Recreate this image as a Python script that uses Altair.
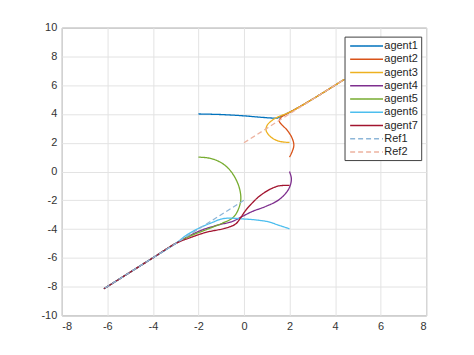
import altair as alt
import pandas as pd

names = ["agent1", "agent2", "agent3", "agent4", "agent5", "agent6", "agent7", "Ref1", "Ref2"]
colors = ["#0072BD", "#D95319", "#EDB120", "#7E2F8E", "#77AC30", "#4DBEEE", "#A2142F", "#8DB6D8", "#EDB3A0"]

up_x = [2.5, 3.0, 3.7, 4.4]
up_y = [4.55, 5.02, 5.7, 6.4]
lo_x = [-3.0, -4.0, -5.0, -6.15]
lo_y = [-5.0, -6.0, -7.0, -8.15]

a1_x = [-2.0, -1.0, 0.0, 0.6, 1.2, 1.45, 1.68, 2.0] + up_x
a1_y = [4.0, 3.96, 3.87, 3.79, 3.72, 3.72, 3.88, 4.12] + up_y
a2_x = [2.0, 2.12, 2.19, 2.12, 1.9, 1.68, 1.55, 1.62, 1.85, 2.1] + up_x
a2_y = [1.0, 1.4, 1.83, 2.3, 2.87, 3.22, 3.5, 3.75, 3.98, 4.2] + up_y
a3_x = [2.0, 1.53, 1.17, 0.97, 1.02, 1.24, 1.53, 1.85, 2.1] + up_x
a3_y = [2.02, 2.11, 2.41, 2.87, 3.22, 3.56, 3.82, 4.02, 4.2] + up_y
a4_x = [2.0, 2.08, 2.04, 1.89, 1.53, 0.95, 0.36, -0.07, -0.51, -1.09, -1.82, -2.4] + lo_x
a4_y = [0.0, -0.47, -0.93, -1.4, -1.97, -2.43, -2.78, -3.12, -3.47, -3.7, -4.05, -4.47] + lo_y
a5_x = [-2.0, -1.6, -1.24, -0.85, -0.51, -0.22, -0.14, -0.29, -0.51, -0.95, -1.67, -2.4] + lo_x
a5_y = [1.0, 0.95, 0.8, 0.45, -0.12, -1.05, -1.97, -2.78, -3.24, -3.59, -4.05, -4.51] + lo_y
a6_x = [2.0, 1.5, 1.09, 0.5, 0.0, -0.66, -1.02, -1.39, -1.97, -2.55] + lo_x
a6_y = [-3.98, -3.72, -3.5, -3.36, -3.3, -3.24, -3.31, -3.54, -3.93, -4.45] + lo_y
a7_x = [2.0, 1.53, 1.09, 0.66, 0.29, 0.05, -0.14, -0.37, -0.8, -1.67, -2.4] + lo_x
a7_y = [-0.97, -1.0, -1.28, -1.74, -2.31, -2.75, -3.2, -3.65, -3.93, -4.23, -4.62] + lo_y
r1_x = [0.0, -6.15]
r1_y = [-2.0, -8.15]
r2_x = [0.0, 4.4]
r2_y = [2.0, 6.4]

series = [
    ("agent1", a1_x, a1_y), ("agent2", a2_x, a2_y), ("agent3", a3_x, a3_y),
    ("agent4", a4_x, a4_y), ("agent5", a5_x, a5_y), ("agent6", a6_x, a6_y),
    ("agent7", a7_x, a7_y), ("Ref1", r1_x, r1_y), ("Ref2", r2_x, r2_y),
]
rows = []
for name, xs, ys in series:
    for i, (x, y) in enumerate(zip(xs, ys)):
        rows.append({"series": name, "i": i, "x": x, "y": y})
df = pd.DataFrame(rows)

dashes = [[1, 0]] * 7 + [[5, 3]] * 2

chart = alt.Chart(df).mark_line(strokeWidth=1.3, interpolate="catmull-rom").encode(
    x=alt.X("x:Q", scale=alt.Scale(domain=[-8, 8], nice=False),
            axis=alt.Axis(values=list(range(-8, 9, 2)), title=None, labelExpr="toString(datum.value)")),
    y=alt.Y("y:Q", scale=alt.Scale(domain=[-10, 10], nice=False),
            axis=alt.Axis(values=list(range(-10, 11, 2)), title=None, labelExpr="toString(datum.value)")),
    color=alt.Color("series:N", scale=alt.Scale(domain=names, range=colors), legend=alt.Legend(title=None)),
    strokeDash=alt.StrokeDash("series:N", scale=alt.Scale(domain=names, range=dashes), legend=alt.Legend(title=None)),
    order=alt.Order("i:Q"),
).properties(
    width=366, height=289,
    autosize="none",
    padding={"left": 54, "top": 19, "right": 40, "bottom": 30},
).configure_view(
    stroke="#808080", strokeWidth=1
).configure_axis(
    grid=True, gridColor="#e3e3e3", gridWidth=1,
    domain=False, ticks=False,
    labelFont="Liberation Sans", labelFontSize=11, labelColor="#333333",
    labelPadding=5,
).configure_legend(
    orient="none", legendX=284, legendY=9,
    fillColor="white", strokeColor="#404040", padding=3,
    symbolType="M-0.7,0L5.3,0", symbolSize=121, symbolStrokeWidth=1.5,
    labelFont="Liberation Sans", labelFontSize=11, labelColor="#262626",
    labelOffset=24, rowPadding=1.3,
)

chart.save("out.html", embed_options={"renderer": "svg", "actions": False})
